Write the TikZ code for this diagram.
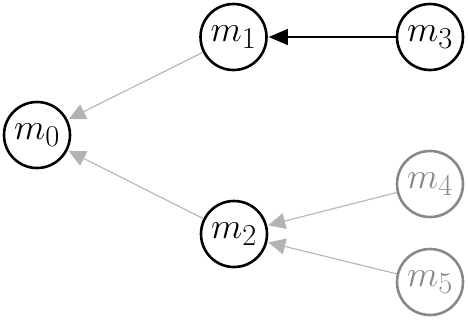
\documentclass[tikz,border=0pt]{standalone}
\usetikzlibrary{arrows.meta}
\definecolor{edgegray}{HTML}{B3B3B3}
\definecolor{nodegray}{HTML}{888888}
\newcommand{\mlabelx}[1]{\scalebox{1.47}{$m_{#1}$}}
\begin{document}
\begin{tikzpicture}[x=1bp,y=-1bp,
  mnode/.style={circle,draw=black,line width=2.6bp,minimum size=66bp,inner sep=0pt,font=\Huge},
  gnode/.style={mnode,draw=nodegray,text=nodegray},
  garrow/.style={draw=edgegray,line width=1.1bp,-{Triangle[length=17bp,width=16bp]},shorten >=1bp},
  barrow/.style={draw=black,line width=1.3bp,-{Triangle[length=19bp,width=16bp]},shorten >=1bp}]
\useasboundingbox (0,0) rectangle (468,322);
\node[mnode] (m0) at (37,135) {\mlabelx{0}};
\node[mnode] (m1) at (233.5,37) {\mlabelx{1}};
\node[mnode] (m3) at (430,37) {\mlabelx{3}};
\node[mnode] (m2) at (234,234) {\mlabelx{2}};
\node[gnode] (m4) at (430,184) {\mlabelx{4}};
\node[gnode] (m5) at (430,282) {\mlabelx{5}};
\draw[barrow] (m3) -- (m1);
\draw[garrow] (m1) -- (m0);
\draw[garrow] (m2) -- (m0);
\draw[garrow] (m4) -- (m2);
\draw[garrow] (m5) -- (m2);
\end{tikzpicture}
\end{document}
